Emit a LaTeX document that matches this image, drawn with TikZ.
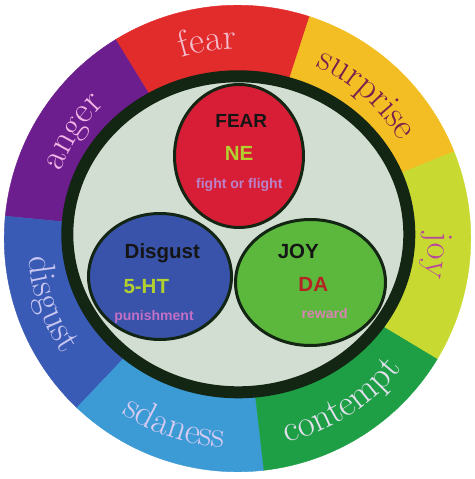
\documentclass[tikz,border=0pt]{standalone}
\usepackage{fontspec}
\newfontfamily\blobfont{Liberation Sans}
\usetikzlibrary{shapes.geometric,decorations.text}

\definecolor{wfear}{HTML}{E22B2B}
\definecolor{wsurprise}{HTML}{F2BE23}
\definecolor{wjoy}{HTML}{C8DA32}
\definecolor{wcontempt}{HTML}{1E9F45}
\definecolor{wsad}{HTML}{3C9AD5}
\definecolor{wdisgust}{HTML}{3A5BB5}
\definecolor{wanger}{HTML}{6D1E8E}
\definecolor{ringdark}{HTML}{132513}
\definecolor{innerfill}{HTML}{D3DED2}
\definecolor{fearfill}{HTML}{D81E36}
\definecolor{disgustfill}{HTML}{3853A9}
\definecolor{joyfill}{HTML}{5BB83C}
\definecolor{tfear}{HTML}{F5BCCB}
\definecolor{tsurprise}{HTML}{7B1E4E}
\definecolor{tjoy}{HTML}{B8489A}
\definecolor{tcontempt}{HTML}{E3E0EE}
\definecolor{tsad}{HTML}{D9CCF2}
\definecolor{tdisgust}{HTML}{C9C6F2}
\definecolor{tanger}{HTML}{F2B6E6}
\definecolor{headdark}{HTML}{151515}
\definecolor{mediator}{HTML}{B2D02E}
\definecolor{darule}{HTML}{B52323}
\definecolor{rolefear}{HTML}{B982C8}
\definecolor{roledisgust}{HTML}{C26FC6}
\definecolor{rolejoy}{HTML}{D883B4}

\newcommand\ringfont{\rmfamily\fontsize{37}{37}\selectfont}

\begin{document}
\begin{tikzpicture}[
    x=1pt, y=1pt,
    blob/.style={ellipse, draw=ringdark, line width=3pt, inner sep=0pt},
    heading/.style={font=\blobfont\bfseries\fontsize{20.5}{20.5}\selectfont, anchor=base},
    transmitter/.style={font=\blobfont\bfseries\fontsize{20.5}{20.5}\selectfont, anchor=base},
    role/.style={font=\blobfont\bfseries\fontsize{14}{14}\selectfont, anchor=base},
    toplabel/.style={decorate, decoration={text along path, text align=center}}, % reads clockwise
    bottomlabel/.style={decorate, decoration={text along path, text align=center}} % reads counterclockwise
    ]
    \useasboundingbox (-237.5,-240.5) rectangle (236.5,238.5);

    % colour wheel
    \foreach \from/\to/\col in {72/121.5/wfear, 121.5/174.5/wanger, 174.5/226.5/wdisgust,
        226.5/276.5/wsad, 276.5/329/wcontempt, 329/382/wjoy, 382/432/wsurprise}
      \filldraw[\col, line width=0.4pt] (0,0) -- (\from:233.3) arc[start angle=\from, end angle=\to, radius=233.3] -- cycle;

    \draw[ringdark, line width=12pt, fill=innerfill] (0.8,4.2) ellipse[x radius=171, y radius=158];

    % the three systems
    \node[blob, fill=fearfill, minimum width=129, minimum height=143] (fear) at (1.5,82.5) {};
    \node[blob, fill=disgustfill, minimum width=143, minimum height=126] (disgust) at (-77.5,-38) {};
    \node[blob, fill=joyfill, minimum width=150, minimum height=126] (joy) at (73,-44) {};

    \node[heading, text=headdark, font=\blobfont\bfseries\fontsize{19}{19}\selectfont] (feartitle) at (3.8,110.8) {FEAR};
    \node[transmitter, text=mediator] (ne) at (1.5,77.8) {NE};
    \node[role, text=rolefear] (fight) at (1.8,50.2) {fight or flight};

    \node[heading, text=headdark] (disgusttitle) at (-75.2,-19.8) {Disgust};
    \node[transmitter, text=mediator] (ht) at (-91.2,-54.8) {5-HT};
    \node[role, text=roledisgust] (punish) at (-83.5,-81.5) {punishment};

    \node[heading, text=headdark] (joytitle) at (60.8,-19.8) {JOY};
    \node[transmitter, text=darule] (da) at (75.8,-53.2) {DA};
    \node[role, text=rolejoy] (reward) at (87.2,-79.8) {reward};

    % names round the wheel
    \path[toplabel, decoration={text={|\ringfont\color{tanger}|anger}}]
      (187:189) arc[start angle=187, end angle=107, radius=189];
    \path[toplabel, decoration={text={|\ringfont\color{tfear}|fear}}]
      (138.7:189) arc[start angle=138.7, end angle=58.7, radius=189];
    \path[toplabel, decoration={text={|\ringfont\color{tsurprise}|surprise}}]
      (88.3:189) arc[start angle=88.3, end angle=8.3, radius=189];
    \path[toplabel, decoration={text={|\ringfont\color{tjoy}|joy}}]
      (35:191) arc[start angle=35, end angle=-45, radius=191];
    \path[bottomlabel, decoration={text={|\ringfont\color{tcontempt}|contempt}}]
      (-97.4:210) arc[start angle=-97.4, end angle=-17.4, radius=210];
    \path[bottomlabel, decoration={text={|\ringfont\color{tsad}|sdaness}}]
      (-148.6:210) arc[start angle=-148.6, end angle=-68.6, radius=210];
    \path[bottomlabel, decoration={text={|\ringfont\color{tdisgust}|disgust}}]
      (159.4:210) arc[start angle=159.4, end angle=239.4, radius=210];
\end{tikzpicture}
\end{document}
